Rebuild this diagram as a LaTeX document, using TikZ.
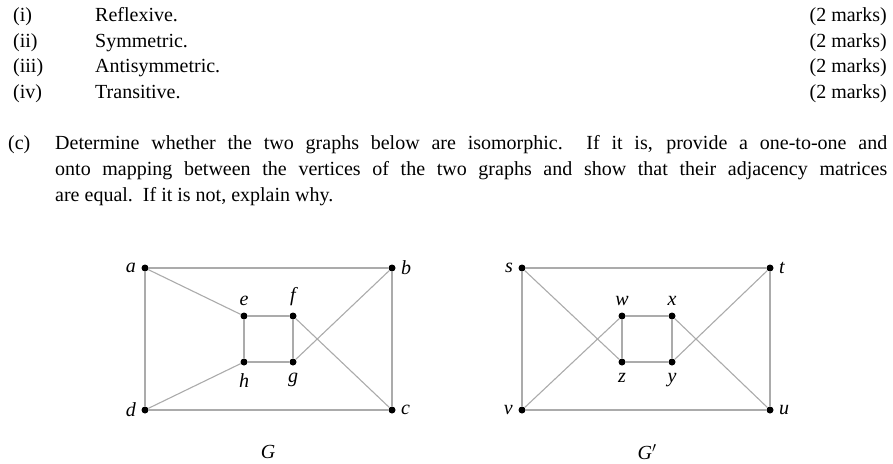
\documentclass[tikz,border=0pt]{standalone}
\usepackage{fontspec}
\setmainfont{Liberation Serif}
\begin{document}
\begin{tikzpicture}[x=1pt,y=-1pt,
  txt/.style={anchor=base west,inner sep=0,font=\fontsize{20}{22}\selectfont},
  rt/.style={anchor=base east,inner sep=0,font=\fontsize{20}{22}\selectfont},
  vtx/.style={circle,fill=black,inner sep=0,minimum size=7pt},
  lbl/.style={inner sep=1pt,font=\itshape\fontsize{20}{22}\selectfont},
  edge/.style={draw=black!33,line width=1.1pt}]
\useasboundingbox (0,0) rectangle (893,463);
\foreach \n/\a/\b/\y in {1/(i)/Reflexive./21,2/(ii)/Symmetric./47,3/(iii)/Antisymmetric./72,4/(iv)/Transitive./98}{
  \node[txt] (l\n) at (13,\y) {\a};
  \node[txt] (t\n) at (95,\y) {\b};
  \node[rt] (m\n) at (887,\y) {(2 marks)};
}
\node[txt] (c) at (8,149) {(c)};
\node[txt] (p1) at (55,149) {\makebox[832pt][s]{Determine whether the two graphs below are isomorphic.\ \ If it is, provide a one-to-one and}};
\node[txt] (p2) at (55,175) {\makebox[832pt][s]{onto mapping between the vertices of the two graphs and show that their adjacency matrices}};
\node[txt] (p3) at (55,201) {are equal.\ \ If it is not, explain why.};
% G
\node[vtx] (a) at (145,268) {}; \node[vtx] (b) at (392,268) {};
\node[vtx] (cc) at (392,410) {}; \node[vtx] (d) at (145,410) {};
\node[vtx] (e) at (244,316) {}; \node[vtx] (f) at (293,316) {};
\node[vtx] (h) at (244,362) {}; \node[vtx] (g) at (293,362) {};
\foreach \u/\v in {a/b,a/d,b/cc,d/cc,a/e,e/f,e/h,f/g,h/g,d/h,b/g,f/cc}
  \draw[edge] (\u) -- (\v);
\node[lbl,left=8pt] at (a) {a}; \node[lbl,right=8pt] at (b) {b};
\node[lbl,right=8pt] at (cc) {c}; \node[lbl,left=8pt] at (d) {d};
\node[lbl,above=9pt] at (e) {e}; \node[lbl,above=9pt] at (f) {f};
\node[lbl,below=10pt] at (h) {h}; \node[lbl,below=10pt] at (g) {g};
\node[lbl] (G) at (268,452) {G};
% G'
\node[vtx] (s) at (522,268) {}; \node[vtx] (t) at (770,268) {};
\node[vtx] (u) at (770,410) {}; \node[vtx] (v) at (522,410) {};
\node[vtx] (w) at (622,316) {}; \node[vtx] (x) at (672,316) {};
\node[vtx] (z) at (622,362) {}; \node[vtx] (y) at (672,362) {};
\foreach \p/\q in {s/t,t/u,u/v,v/s,s/z,w/x,w/z,x/y,z/y,v/w,t/y,x/u}
  \draw[edge] (\p) -- (\q);
\node[lbl,left=8pt] at (s) {s}; \node[lbl,right=8pt] at (t) {t};
\node[lbl,right=8pt] at (u) {u}; \node[lbl,left=8pt] at (v) {v};
\node[lbl,above=9pt] at (w) {w}; \node[lbl,above=9pt] at (x) {x};
\node[lbl,below=10pt] at (z) {z}; \node[lbl,below=10pt] at (y) {y};
\node[lbl] (G2) at (647,452) {G$'$};
\end{tikzpicture}
\end{document}
